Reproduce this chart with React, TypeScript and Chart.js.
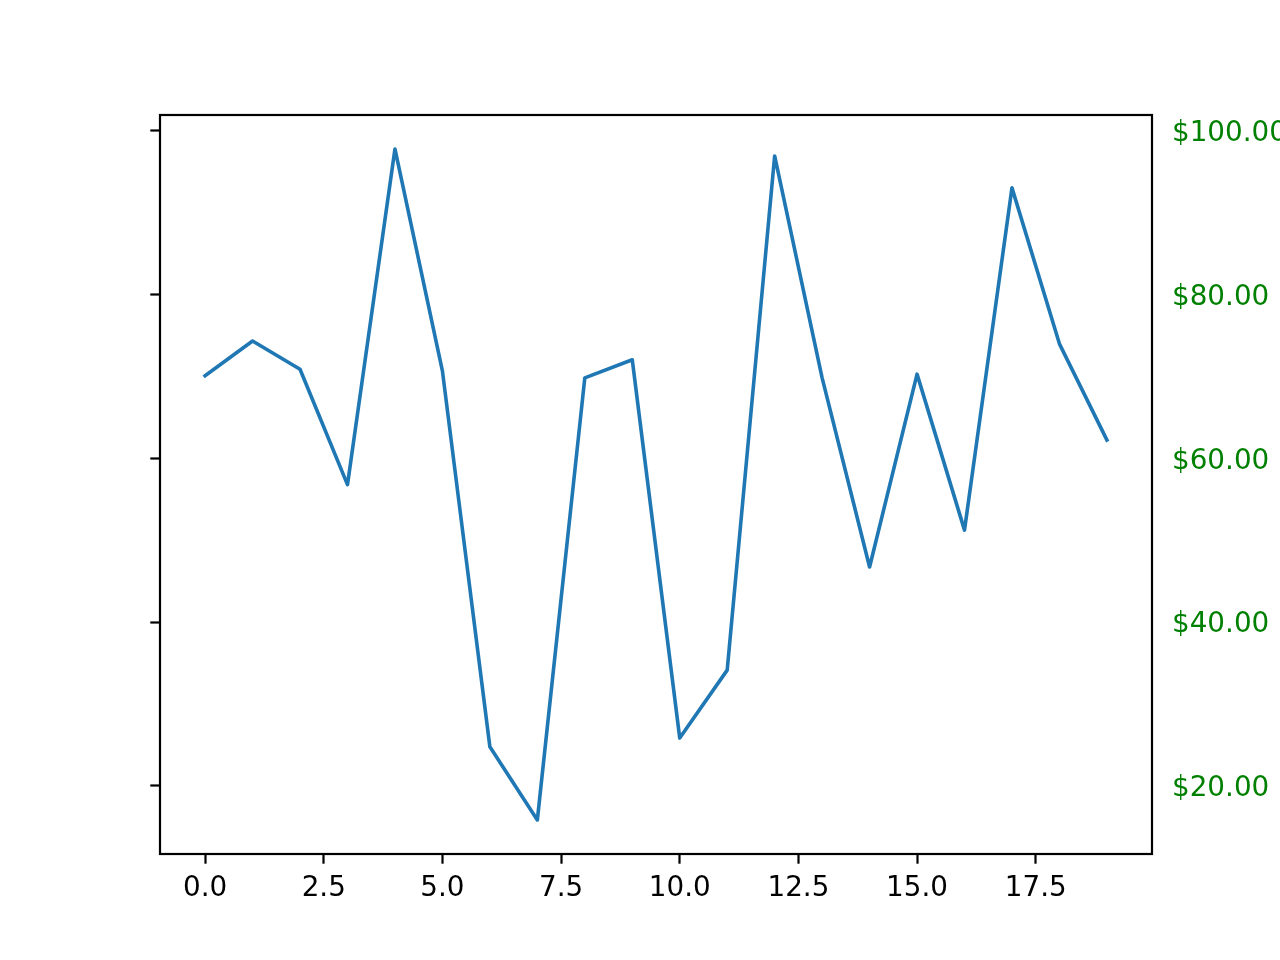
import React, { useEffect, useRef } from "react";
import { Chart, registerables } from "chart.js";

Chart.register(...registerables);

const xValues = [0, 1, 2, 3, 4, 5, 6, 7, 8, 9, 10, 11, 12, 13, 14, 15, 16, 17, 18, 19];
const priceValues = [70.1, 74.35, 70.9, 56.8, 97.8, 70.7, 24.8, 15.85, 69.85, 72.05, 25.85, 34.15, 96.95, 69.85, 46.75, 70.3, 51.25, 93.05, 74.0, 62.25];
const xMin = -0.95;
const xMax = 19.95;
const yMin = 11.69;
const yMax = 101.95;
const xStep = 2.5;
const yStep = 20;

const FONT = { family: "'DejaVu Sans', sans-serif", size: 27.8 };

const framePlugin = {
  id: "frame",
  afterDraw(chart: any) {
    const { ctx, chartArea } = chart;
    ctx.save();
    ctx.strokeStyle = "#000";
    ctx.lineWidth = 2.2;
    ctx.strokeRect(chartArea.left, chartArea.top, chartArea.right - chartArea.left, chartArea.bottom - chartArea.top);
    ctx.restore();
  },
};

export default function App() {
  const ref = useRef<HTMLCanvasElement>(null);
  useEffect(() => {
    document.body.style.margin = "0";
    const chart = new Chart(ref.current!, {
      type: "line",
      data: {
        datasets: [
          {
            data: xValues.map((x, i) => ({ x, y: priceValues[i] })),
            borderColor: "#1f77b4",
            borderWidth: 3.6,
            borderJoinStyle: "round",
            borderCapStyle: "square",
            pointRadius: 0,
            tension: 0,
            yAxisID: "y",
          },
        ],
      },
      options: {
        animation: false,
        responsive: false,
        layout: { padding: { top: 115, left: 0, right: 0, bottom: 0 } },
        plugins: { legend: { display: false }, tooltip: { enabled: false } },
        scales: {
          x: {
            type: "linear",
            min: xMin,
            max: xMax,
            border: { display: false },
            grid: { drawOnChartArea: false, drawTicks: true, tickLength: 9.7, tickWidth: 2.2, tickColor: "#000" },
            ticks: {
              stepSize: xStep,
              includeBounds: false,
              autoSkip: false,
              maxRotation: 0,
              color: "#000",
              font: FONT,
              padding: 8,
              callback: (v: any) => Number(v).toFixed(1),
            },
            afterFit: (s: any) => {
              s.height = 106;
            },
          },
          y: {
            type: "linear",
            position: "left",
            min: yMin,
            max: yMax,
            border: { display: false },
            grid: { drawOnChartArea: false, drawTicks: true, tickLength: 9.7, tickWidth: 2.2, tickColor: "#000" },
            ticks: { stepSize: yStep, includeBounds: false, display: false },
            afterFit: (s: any) => {
              s.width = 160;
            },
          },
          y2: {
            type: "linear",
            position: "right",
            min: yMin,
            max: yMax,
            border: { display: false },
            grid: { drawOnChartArea: false, drawTicks: false },
            ticks: {
              stepSize: yStep,
              includeBounds: false,
              color: "#008000",
              font: FONT,
              padding: 20,
              labelOffset: 3,
              callback: (v: any) => "$" + Number(v).toFixed(2),
            },
            afterFit: (s: any) => {
              s.width = 128;
            },
          },
        },
      },
      plugins: [framePlugin],
    });
    return () => chart.destroy();
  }, []);
  return (
    <div style={{ width: 1280, height: 960, background: "#fff" }}>
      <canvas ref={ref} width={1280} height={960} />
    </div>
  );
}
